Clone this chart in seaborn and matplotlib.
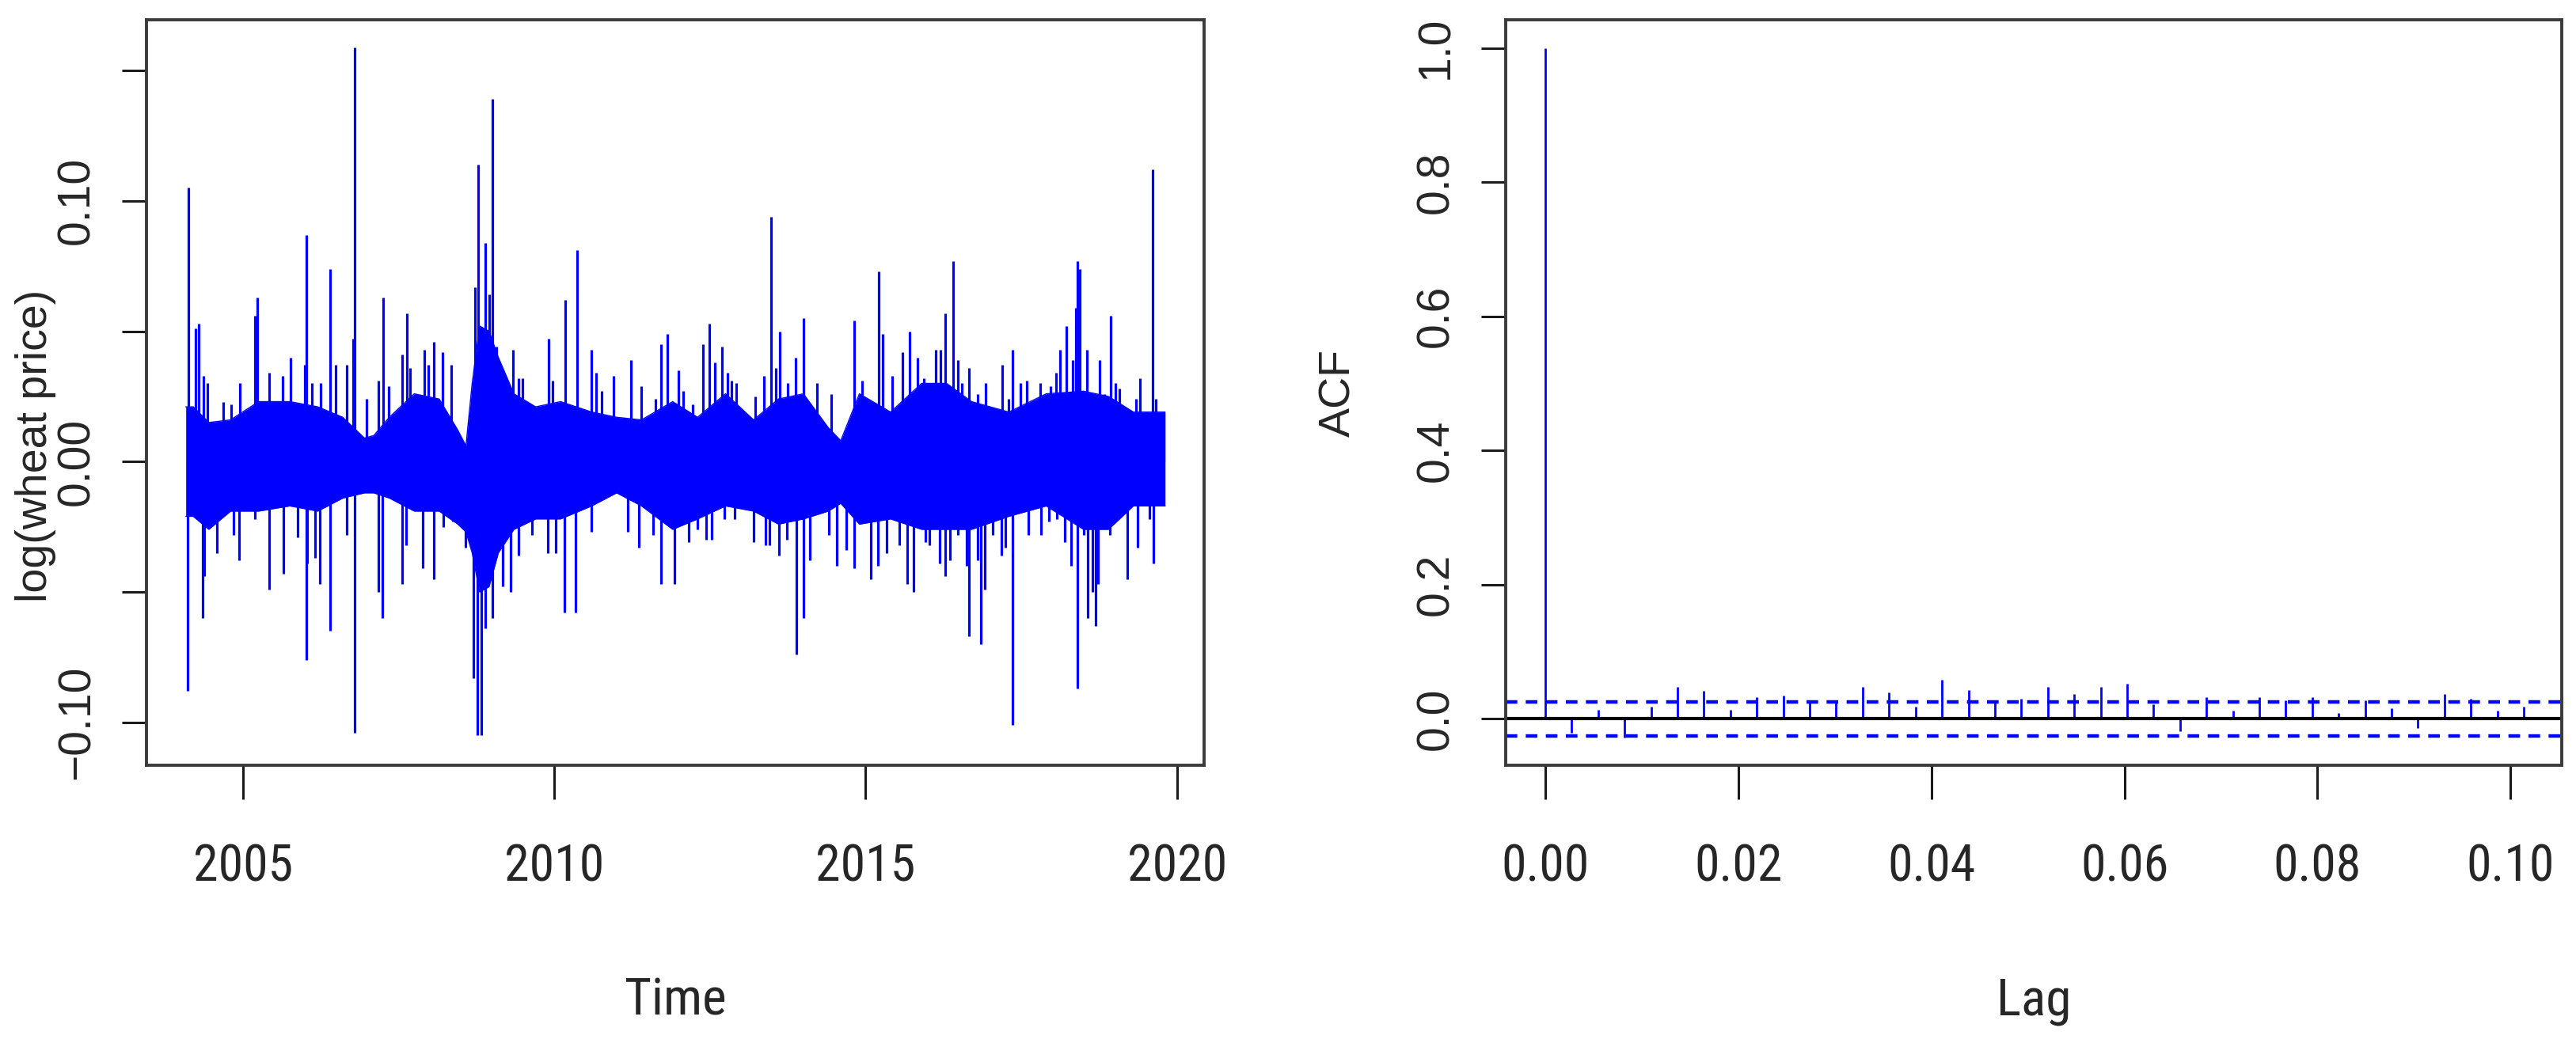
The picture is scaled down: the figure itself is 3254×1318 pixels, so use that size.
import os
import numpy as np
import pandas as pd
import seaborn as sns
import matplotlib
matplotlib.use("Agg")
import matplotlib.pyplot as plt
from matplotlib import font_manager as fm

# ---------------- data ----------------
# dense core band of daily log-returns (upper / lower edge)
core_t = [2004.08, 2004.20, 2004.45, 2004.80, 2005.25, 2005.75, 2006.20, 2006.60,
          2006.95, 2007.10, 2007.35, 2007.75, 2008.15, 2008.45, 2008.58, 2008.68,
          2008.80, 2008.95, 2009.10, 2009.35, 2009.70, 2010.10, 2010.60, 2011.00,
          2011.40, 2011.90, 2012.30, 2012.75, 2013.20, 2013.60, 2014.00, 2014.40,
          2014.60, 2014.90, 2015.40, 2015.90, 2016.30, 2016.70, 2017.30, 2017.90,
          2018.50, 2018.90, 2019.30, 2019.81]
core_hi = [0.021, 0.021, 0.015, 0.016, 0.023, 0.023, 0.021, 0.017,
           0.009, 0.010, 0.017, 0.026, 0.024, 0.012, 0.006, 0.030,
           0.052, 0.050, 0.040, 0.026, 0.021, 0.023, 0.019, 0.017,
           0.016, 0.023, 0.017, 0.026, 0.016, 0.024, 0.026, 0.013,
           0.008, 0.026, 0.019, 0.030, 0.030, 0.023, 0.019, 0.026,
           0.027, 0.025, 0.019, 0.019]
core_lo = [-0.021, -0.021, -0.026, -0.019, -0.019, -0.017, -0.019, -0.014,
           -0.012, -0.012, -0.014, -0.019, -0.019, -0.024, -0.027, -0.035,
           -0.050, -0.048, -0.035, -0.026, -0.022, -0.022, -0.017, -0.012,
           -0.017, -0.026, -0.022, -0.017, -0.019, -0.024, -0.022, -0.019,
           -0.016, -0.024, -0.022, -0.026, -0.026, -0.026, -0.021, -0.017,
           -0.026, -0.026, -0.017, -0.017]

# upward spikes (time, value)
up_t = [2004.126, 2004.232, 2004.283, 2004.360, 2004.423, 2004.678, 2004.805, 2004.953,
        2005.186, 2005.229, 2005.419, 2005.631, 2005.759, 2005.992, 2006.013, 2006.111,
        2006.246, 2006.403, 2006.492, 2006.670, 2006.768, 2006.797, 2006.988, 2007.178,
        2007.255, 2007.340, 2007.560, 2007.628, 2007.687, 2007.908, 2007.976, 2008.069,
        2008.205, 2008.344, 2008.727, 2008.770, 2008.896, 2008.960, 2009.010, 2009.066,
        2009.121, 2009.341, 2009.426, 2009.490, 2009.913, 2009.977, 2010.180, 2010.359,
        2010.592, 2010.676, 2010.761, 2010.952, 2011.228, 2011.397, 2011.618, 2011.715,
        2011.821, 2011.991, 2012.075, 2012.224, 2012.393, 2012.491, 2012.584, 2012.690,
        2012.775, 2012.839, 2012.923, 2013.220, 2013.368, 2013.483, 2013.559, 2013.623,
        2013.742, 2013.877, 2014.004, 2014.216, 2014.450, 2014.810, 2014.937, 2015.213,
        2015.276, 2015.424, 2015.594, 2015.700, 2015.827, 2015.933, 2016.124, 2016.196,
        2016.272, 2016.410, 2016.484, 2016.547, 2016.662, 2016.802, 2016.929, 2017.192,
        2017.290, 2017.362, 2017.480, 2017.586, 2017.798, 2017.968, 2018.053, 2018.116,
        2018.222, 2018.328, 2018.370, 2018.405, 2018.443, 2018.549, 2018.752, 2018.837,
        2018.934, 2019.006, 2019.070, 2019.176, 2019.346, 2019.401, 2019.507, 2019.608,
        2019.663, 2019.790]
up_v = [0.105, 0.051, 0.053, 0.033, 0.030, 0.023, 0.022, 0.030,
        0.056, 0.063, 0.034, 0.033, 0.040, 0.037, 0.087, 0.030,
        0.030, 0.074, 0.037, 0.037, 0.047, 0.159, 0.024, 0.031,
        0.063, 0.029, 0.041, 0.057, 0.036, 0.043, 0.037, 0.046,
        0.042, 0.037, 0.067, 0.114, 0.084, 0.064, 0.139, 0.044,
        0.037, 0.043, 0.032, 0.032, 0.047, 0.031, 0.062, 0.081,
        0.043, 0.034, 0.027, 0.033, 0.039, 0.029, 0.024, 0.045,
        0.049, 0.035, 0.027, 0.022, 0.045, 0.053, 0.038, 0.044,
        0.034, 0.031, 0.030, 0.025, 0.033, 0.094, 0.036, 0.050,
        0.030, 0.040, 0.055, 0.030, 0.026, 0.054, 0.031, 0.073,
        0.049, 0.033, 0.042, 0.050, 0.040, 0.032, 0.043, 0.043,
        0.057, 0.077, 0.039, 0.030, 0.036, 0.026, 0.030, 0.037,
        0.024, 0.043, 0.030, 0.031, 0.030, 0.029, 0.034, 0.043,
        0.052, 0.039, 0.059, 0.077, 0.074, 0.043, 0.039, 0.026,
        0.056, 0.030, 0.028, 0.018, 0.024, 0.032, 0.019, 0.112,
        0.024, 0.019]

# downward spikes (time, value)
dn_t = [2004.114, 2004.347, 2004.372, 2004.584, 2004.847, 2004.932, 2005.186, 2005.419,
        2005.644, 2005.873, 2006.017, 2006.034, 2006.153, 2006.233, 2006.394, 2006.670,
        2006.797, 2007.178, 2007.242, 2007.560, 2007.624, 2007.891, 2008.061, 2008.217,
        2008.366, 2008.578, 2008.705, 2008.769, 2008.833, 2008.896, 2009.010, 2009.171,
        2009.299, 2009.426, 2009.638, 2009.892, 2010.019, 2010.168, 2010.337, 2010.592,
        2011.185, 2011.355, 2011.588, 2011.715, 2011.935, 2012.160, 2012.300, 2012.436,
        2012.521, 2012.733, 2012.902, 2013.199, 2013.390, 2013.453, 2013.602, 2013.729,
        2013.890, 2014.004, 2014.110, 2014.407, 2014.534, 2014.683, 2014.810, 2015.085,
        2015.191, 2015.331, 2015.539, 2015.666, 2015.764, 2015.954, 2016.018, 2016.187,
        2016.272, 2016.357, 2016.484, 2016.620, 2016.662, 2016.802, 2016.853, 2016.908,
        2017.035, 2017.175, 2017.247, 2017.362, 2017.607, 2017.819, 2017.947, 2018.074,
        2018.201, 2018.298, 2018.405, 2018.498, 2018.570, 2018.646, 2018.688, 2018.731,
        2018.922, 2019.206, 2019.367, 2019.557, 2019.621]
dn_v = [-0.088, -0.060, -0.044, -0.035, -0.028, -0.038, -0.022, -0.049,
        -0.043, -0.029, -0.076, -0.039, -0.037, -0.047, -0.065, -0.028,
        -0.104, -0.050, -0.060, -0.047, -0.032, -0.041, -0.045, -0.025,
        -0.023, -0.033, -0.083, -0.105, -0.105, -0.064, -0.060, -0.048,
        -0.050, -0.036, -0.028, -0.035, -0.035, -0.058, -0.058, -0.027,
        -0.027, -0.033, -0.028, -0.047, -0.047, -0.031, -0.026, -0.030,
        -0.030, -0.022, -0.022, -0.031, -0.032, -0.032, -0.036, -0.030,
        -0.074, -0.060, -0.038, -0.028, -0.040, -0.034, -0.041, -0.045,
        -0.040, -0.035, -0.032, -0.047, -0.050, -0.031, -0.032, -0.039,
        -0.044, -0.038, -0.028, -0.040, -0.067, -0.038, -0.070, -0.049,
        -0.028, -0.036, -0.033, -0.101, -0.028, -0.028, -0.023, -0.022,
        -0.031, -0.040, -0.087, -0.028, -0.060, -0.050, -0.063, -0.047,
        -0.028, -0.045, -0.033, -0.022, -0.039]

# autocorrelation function, lags 0..37 (lag in years, daily frequency 365)
acf_vals = [1.000, -0.021, 0.013, -0.028, 0.018, 0.048, 0.042, 0.013,
            0.032, 0.034, 0.028, 0.028, 0.048, 0.039, 0.018, 0.058,
            0.043, 0.028, 0.030, 0.047, 0.037, 0.047, 0.052, 0.022,
            -0.018, 0.032, 0.012, 0.032, 0.028, 0.032, 0.008, 0.028,
            0.016, -0.014, 0.037, 0.030, 0.012, 0.018]
acf_freq = 365
acf_ci = 0.0255

left_yticks = [-0.10, -0.05, 0.00, 0.05, 0.10, 0.15]
left_yticklabels = ["\u22120.10", "", "0.00", "", "0.10", ""]
left_xticks = [2005, 2010, 2015, 2020]
right_yticks = [0.0, 0.2, 0.4, 0.6, 0.8, 1.0]
right_xticks = [0.00, 0.02, 0.04, 0.06, 0.08, 0.10]

# ---------------- style ----------------
sns.set_theme(style="ticks")
plt.rcParams["font.family"] = ["Liberation Sans", "DejaVu Sans"]


def pick_condensed():
    best, best_score = None, 99
    for f in fm.fontManager.ttflist:
        base = os.path.basename(f.fname).lower()
        name = f.name.lower()
        if any(w in base for w in ("bold", "italic", "light", "thin", "black",
                                   "medium", "heavy", "oblique", "mono")):
            continue
        if "serif" in name and "sans" not in name:
            continue
        if base.startswith("notosans-extracondensed."):
            score = 0
        elif base.startswith("liberationsansnarrow-regular"):
            score = 1
        elif base.startswith("notosans-condensed."):
            score = 2
        elif base.startswith("robotocondensed-regular"):
            score = 3
        elif ("condensed" in base or "narrow" in base) and "sans" in (base + name):
            score = 4
        else:
            continue
        if score < best_score:
            best, best_score = f.fname, score
    return best


cond_path = pick_condensed()
if cond_path:
    xfp = fm.FontProperties(fname=cond_path, size=46)
    xlab_fp = fm.FontProperties(fname=cond_path, size=47)
    xpad = 39
else:
    xfp = fm.FontProperties(family=["Liberation Sans", "DejaVu Sans"], size=40)
    xlab_fp = fm.FontProperties(family=["Liberation Sans", "DejaVu Sans"], size=41)
    xpad = 40

BLUE = "#0000ff"
FRAME = "#3a3a3a"
YTICK_SIZE = 41

W, H = 3255, 1318
fig = plt.figure(figsize=(W / 100, H / 100), dpi=100, facecolor="white")


def px_axes(x0, x1, y0, y1):
    return fig.add_axes([x0 / W, 1 - y1 / H, (x1 - x0) / W, (y1 - y0) / H])


ax1 = px_axes(185, 1521, 25, 967)
ax2 = px_axes(1902, 3236, 25, 967)

for ax in (ax1, ax2):
    ax.set_facecolor("white")
    for sp in ax.spines.values():
        sp.set_visible(True)
        sp.set_color(FRAME)
        sp.set_linewidth(2.8)
    ax.tick_params(axis="x", which="both", bottom=True, top=False, direction="out",
                   length=31, width=2.2, color="#1a1a1a", pad=xpad)
    ax.tick_params(axis="y", which="both", left=True, right=False, direction="out",
                   length=22.5, width=2.2, color="#1a1a1a", pad=21,
                   labelsize=YTICK_SIZE, labelrotation=90)
    ax.grid(False)

# ---------------- left: time series ----------------
ax1.fill_between(core_t, core_lo, core_hi, color=BLUE, linewidth=0)
sns.lineplot(x=core_t, y=core_hi, ax=ax1, color=BLUE, linewidth=1.0)
sns.lineplot(x=core_t, y=core_lo, ax=ax1, color=BLUE, linewidth=1.0)
ax1.vlines(up_t, 0, up_v, color=BLUE, linewidth=2.3)
ax1.vlines(dn_t, dn_v, 0, color=BLUE, linewidth=2.3)

ax1.set_xlim(2003.448, 2020.436)
ax1.set_ylim(-0.1165, 0.1695)
ax1.set_xticks(left_xticks)
ax1.set_xticklabels([str(v) for v in left_xticks], fontproperties=xfp)
ax1.set_yticks(left_yticks)
ax1.set_yticklabels(left_yticklabels, fontsize=YTICK_SIZE)
for lab in ax1.get_yticklabels():
    lab.set_va("center")
ax1.set_xlabel("Time", fontproperties=xlab_fp)
ax1.xaxis.set_label_coords(0.5, -0.316)
ax1.xaxis.label.set_va("center")
ax1.set_ylabel("log(wheat price)", fontsize=40)
ax1.yaxis.set_label_coords(-0.1048, 0.429)
ax1.yaxis.label.set_va("center")

# ---------------- right: ACF ----------------
lags = np.arange(len(acf_vals)) / acf_freq
ax2.vlines(lags, 0, acf_vals, color=BLUE, linewidth=2.0)
ax2.axhline(0, color="black", linewidth=3.0)
ax2.axhline(acf_ci, color=BLUE, linewidth=3.2, linestyle=(0, (3.3, 2.4)))
ax2.axhline(-acf_ci, color=BLUE, linewidth=3.2, linestyle=(0, (3.3, 2.4)))

ax2.set_xlim(-0.0041, 0.1053)
ax2.set_ylim(-0.0693, 1.042)
ax2.set_xticks(right_xticks)
ax2.set_xticklabels([f"{v:.2f}" for v in right_xticks], fontproperties=xfp)
ax2.set_yticks(right_yticks)
ax2.set_yticklabels([f"{v:.1f}" for v in right_yticks], fontsize=YTICK_SIZE)
for lab in ax2.get_yticklabels():
    lab.set_va("center")
ax2.set_xlabel("Lag", fontproperties=xlab_fp)
ax2.xaxis.set_label_coords(0.5, -0.316)
ax2.xaxis.label.set_va("center")
ax2.set_ylabel("ACF", fontsize=40)
ax2.yaxis.set_label_coords(-0.1578, 0.5)
ax2.yaxis.label.set_va("center")

fig.savefig("out.png", dpi=100, facecolor="white")
